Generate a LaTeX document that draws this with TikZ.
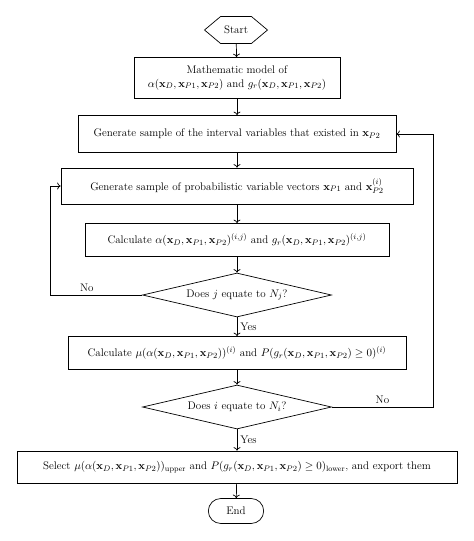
\documentclass[tikz,border=0pt]{standalone}
\usepackage{amsmath}
\usetikzlibrary{arrows.meta,shapes.geometric,shapes.misc,shapes.symbols,positioning}
\newcommand{\xDP}{\mathbf{x}_D,\mathbf{x}_{P1},\mathbf{x}_{P2}}

\begin{document}
\begin{tikzpicture}[x=1pt,y=-1pt,
				font=\fontsize{11}{13.5}\selectfont,
				>={To[length=3.5pt,width=7pt]},
				every edge/.style={draw,line width=0.7pt},
				proc/.style={draw,line width=0.7pt,inner sep=2pt,align=center},
				cond/.style={draw,diamond,line width=0.7pt,inner sep=0pt,
					minimum width=189pt,minimum height=44pt,aspect=4.3},
				startsym/.style={draw,signal,signal to=west and east,signal pointer angle=80,
					line width=0.7pt,minimum width=63pt,minimum height=27pt},
				endsym/.style={draw,rounded rectangle,line width=0.7pt,
					minimum width=62pt,minimum height=25pt},
				lbl/.style={inner sep=3pt}]
			\useasboundingbox (0,0) rectangle (474,541);
			\node [startsym] (start) at (236,30) {Start};
			\node [proc,minimum width=206pt,minimum height=41pt] (model) at (237,78)
				{Mathematic model of\\ $\alpha(\xDP)$ and $g_r(\xDP)$}
				edge[<-] (start);
			\node [proc,minimum width=318pt,minimum height=37pt] (interval) at (237,134)
				{Generate sample of the interval variables that existed in $\mathbf{x}_{P2}$}
				edge[<-] (model);
			\node [proc,minimum width=352pt,minimum height=36pt] (prob) at (237,186)
				{Generate sample of probabilistic variable vectors $\mathbf{x}_{P1}$ and $\mathbf{x}_{P2}^{(i)}$}
				edge[<-] (interval);
			\node [proc,minimum width=304pt,minimum height=33pt] (calc) at (237,240)
				{Calculate $\alpha(\xDP)^{(i,j)}$ and $g_r(\xDP)^{(i,j)}$}
				edge[<-] (prob);
			\node [cond] (dj) at (237,295) {Does $j$ equate to $N_j$?}
				edge[<-] (calc);
			\node [proc,minimum width=338pt,minimum height=33pt] (mu) at (237,353)
				{Calculate $\mu(\alpha(\xDP))^{(i)}$ and $P(g_r(\xDP)\geq 0)^{(i)}$}
				edge[<-] node[lbl,right] {Yes} (dj);
			\node [cond] (di) at (237,407) {Does $i$ equate to $N_i$?}
				edge[<-] (mu);
			\node [proc,minimum width=440pt,minimum height=32pt] (select) at (237,467)
				{Select $\mu(\alpha(\xDP))_{\text{upper}}$ and $P(g_r(\xDP)\geq 0)_{\text{lower}}$, and export them}
				edge[<-] node[lbl,right] {Yes} (di);
			\node [endsym] (end) at (236,511) {End}
				edge[<-] (select);
			% loops back
			\coordinate (jloop) at (50,295);
			\coordinate (iloop) at (433,407);
			\draw[->,line width=0.7pt] (dj.west) -- node[lbl,above,pos=0.6] {No} (jloop) |- (prob.west);
			\draw[->,line width=0.7pt] (di.east) -- node[lbl,above] {No} (iloop) |- (interval.east);
		\end{tikzpicture}
\end{document}
